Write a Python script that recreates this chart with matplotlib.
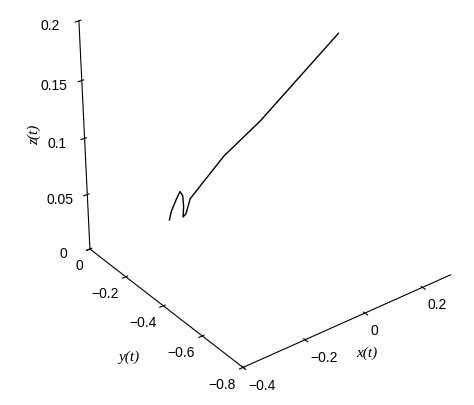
import matplotlib
matplotlib.use("Agg")
import matplotlib.pyplot as plt
import numpy as np

xs = [-0.235, -0.225, -0.205, -0.192, -0.186, -0.19, -0.197, -0.19, -0.175, -0.10, -0.03, 0.035, 0.11]
ys = [-0.17, -0.165, -0.16, -0.16, -0.165, -0.175, -0.182, -0.187, -0.187, -0.25, -0.33, -0.41, -0.50]
zs = [0.030, 0.036, 0.044, 0.050, 0.046, 0.038, 0.030, 0.033, 0.045, 0.083, 0.116, 0.153, 0.195]

plt.rcParams['font.family'] = ['Liberation Sans', 'DejaVu Sans']
fig = plt.figure(figsize=(4.74, 4.05), dpi=100)
ax = fig.add_axes([0.055, 0.115, 1.0, 1.0], projection='3d')
ax.plot(xs, ys, zs, color='black', lw=1)
ax.set_xlim(-0.4, 0.3); ax.set_ylim(-0.8, 0); ax.set_zlim(0, 0.2)
ax.set_xticks([-0.4, -0.2, 0, 0.2]); ax.set_xticklabels(['−0.4', '−0.2', '0', '0.2'])
ax.set_yticks([-0.8, -0.6, -0.4, -0.2, 0]); ax.set_yticklabels(['−0.8', '−0.6', '−0.4', '−0.2', '0'])
ax.set_zticks([0, 0.05, 0.1, 0.15, 0.2]); ax.set_zticklabels(['0', '0.05', '0.1', '0.15', '0.2'])
for a in (ax.xaxis, ax.yaxis, ax.zaxis):
    a.pane.set_visible(False)
    a.line.set_color('black')
ax.grid(False)
ax.xaxis.set_tick_params(pad=-3)
ax.yaxis.set_tick_params(pad=-3)
for t in ax.get_yticklabels():
    t.set_ha('right')
for t in ax.get_xticklabels():
    t.set_ha('left')
lab = dict(family='Liberation Serif', style='italic', fontsize=11)
ax.zaxis.set_rotate_label(False)
ax.set_xlabel('x(t)', labelpad=-6, **lab); ax.set_ylabel('y(t)', labelpad=4, **lab)
ax.set_zlabel('z(t)', rotation=90, labelpad=0, **lab)
ax.tick_params(labelsize=10)
ax.view_init(elev=30, azim=-127.5)
ax.set_box_aspect((1, 1, 1.0), zoom=1.1)
fig.savefig('out.png', dpi=100)
